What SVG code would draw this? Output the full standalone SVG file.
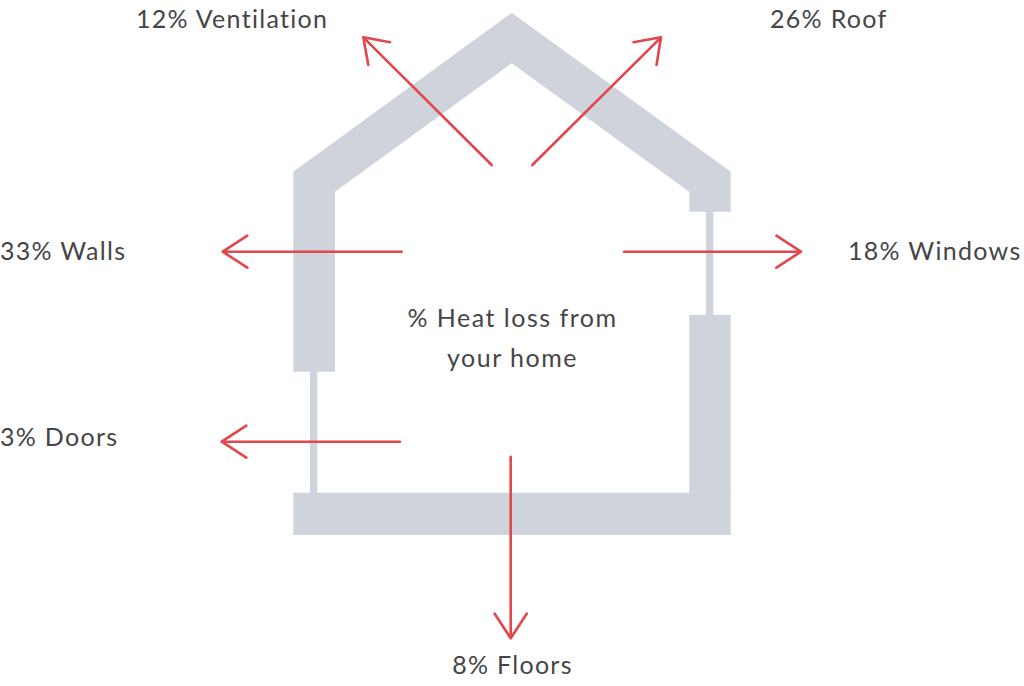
<svg xmlns="http://www.w3.org/2000/svg" width="1024" height="686" viewBox="0 0 1024 686">
<style>
.wall{fill:#cfd3db}
.arr{stroke:#e2474b;stroke-width:2.6;fill:none;stroke-linecap:round;stroke-linejoin:round}
.lbl{font-family:Lato,"Noto Sans",sans-serif;font-size:25px;font-weight:400;letter-spacing:1.3px;fill:#454547}
.ctr{letter-spacing:1.5px}
</style>
<rect width="1024" height="686" fill="#ffffff"/>
<g id="house">
<polygon class="wall" points="511.7,12.7 730.7,171.7 730.7,211.7 689.3,211.7 689.3,191.7 511.7,63.3 335,191.7 335,371.7 293.3,371.7 293.3,171.7"/>
<rect class="wall" x="310" y="371" width="7.3" height="123"/>
<rect class="wall" x="706" y="211" width="7.3" height="105"/>
<rect class="wall" x="689.3" y="315" width="41.4" height="180"/>
<rect class="wall" x="293.3" y="492.7" width="437.4" height="42.3"/>
</g>
<g id="connectors">
<path class="arr" d="M491.7,165 L363.3,37.3 M390,42.3 L363.3,37.3 L368.3,65"/>
<path class="arr" d="M532.3,165 L661,37.3 M633.5,42.3 L661,37.3 L656.5,65"/>
<path class="arr" d="M401.7,251.7 L222.7,251.7 M247.3,235.7 L222.7,251.7 L247.3,267.7"/>
<path class="arr" d="M400,441.7 L221.7,441.7 M246.3,425.7 L221.7,441.7 L246.3,457.7"/>
<path class="arr" d="M624,251.7 L801,251.7 M776.4,235.7 L801,251.7 L776.4,267.7"/>
<path class="arr" d="M510.7,456.7 L510.7,638.3 M494.7,613.7 L510.7,638.3 L526.7,613.7"/>
</g>
<g id="label-ventilation"><text class="lbl" x="136" y="28">12% Ventilation</text></g>
<g id="label-roof"><text class="lbl" x="770" y="28">26% Roof</text></g>
<g id="label-walls"><text class="lbl" x="0" y="259.5">33% Walls</text></g>
<g id="label-windows"><text class="lbl" x="848" y="259.5">18% Windows</text></g>
<g id="label-doors"><text class="lbl" x="0" y="446">3% Doors</text></g>
<g id="label-floors"><text class="lbl" x="512.5" y="674" text-anchor="middle">8% Floors</text></g>
<g id="center-title"><text class="lbl ctr" x="512.5" y="326.7" text-anchor="middle">% Heat loss from</text><text class="lbl ctr" x="512.5" y="367" text-anchor="middle">your home</text></g>
</svg>
